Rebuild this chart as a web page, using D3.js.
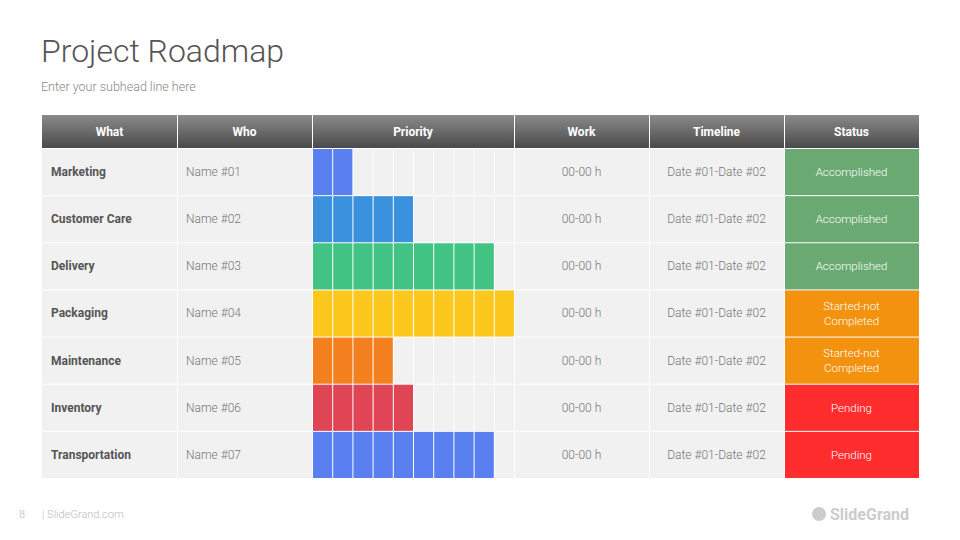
<!DOCTYPE html>
<html><head><meta charset="utf-8">
<script src="https://cdn.jsdelivr.net/npm/d3@7"></script>
<style>body{margin:0;background:#fff}text{font-family:Roboto,sans-serif}</style>
</head><body><div id="chart"></div>
<script>
var columns = ["What", "Who", "Priority", "Work", "Timeline", "Status"];
var tasks = ["Marketing", "Customer Care", "Delivery", "Packaging", "Maintenance", "Inventory", "Transportation"];
var names = ["Name #01", "Name #02", "Name #03", "Name #04", "Name #05", "Name #06", "Name #07"];
var priority = [2, 5, 9, 10, 4, 5, 9];
var work = ["00-00 h", "00-00 h", "00-00 h", "00-00 h", "00-00 h", "00-00 h", "00-00 h"];
var timeline = ["Date #01-Date #02", "Date #01-Date #02", "Date #01-Date #02", "Date #01-Date #02", "Date #01-Date #02", "Date #01-Date #02", "Date #01-Date #02"];
var statuses = ["Accomplished", "Accomplished", "Accomplished", "Started-not|Completed", "Started-not|Completed", "Pending", "Pending"];
var barColors = ["#5a7ff0", "#3a92de", "#41c483", "#fcc81e", "#f37f1f", "#e04555", "#5a7ff0"];
var statusColors = {"Accomplished": "#6aaa72", "Started-not|Completed": "#f3920e", "Pending": "#ff2d2d"};

function init() {
    var w = 960, h = 540;
    var svg = d3.select("#chart").append("svg").attr("width", w).attr("height", h);

    svg.append("text").attr("x", 41).attr("y", 62).attr("font-size", 32).attr("font-weight", 300)
        .attr("fill", "#555").text("Project Roadmap");
    svg.append("text").attr("x", 41).attr("y", 91).attr("font-size", 12.5).attr("font-weight", 300)
        .attr("fill", "#888").text("Enter your subhead line here");

    var edges = [42, 177, 312, 514, 649, 784, 919];
    var colX = function (i) { return edges[i]; };
    var colW = function (i) { return edges[i + 1] - edges[i]; };

    var grad = svg.append("defs").append("linearGradient").attr("id", "hg").attr("x1", 0).attr("y1", 0).attr("x2", 0).attr("y2", 1);
    grad.append("stop").attr("offset", 0).attr("stop-color", "#8a8a8a");
    grad.append("stop").attr("offset", 1).attr("stop-color", "#4a4a4a");

    var headY = 115, headH = 33;
    var y = d3.scaleBand().domain(tasks).range([148, 478]).paddingInner(0);

    var hdr = svg.selectAll("g.hdr").data(columns).enter().append("g");
    hdr.append("rect").attr("x", function (d, i) { return colX(i) + (i ? 1 : 0); }).attr("y", headY)
        .attr("width", function (d, i) { return colW(i) - (i ? 1 : 0); }).attr("height", headH).attr("fill", "url(#hg)");
    hdr.append("text").attr("x", function (d, i) { return colX(i) + colW(i) / 2; }).attr("y", headY + 21)
        .attr("text-anchor", "middle").attr("font-size", 12).attr("font-weight", 700).attr("fill", "#fff").text(function (d) { return d; });

    var rows = svg.selectAll("g.row").data(tasks).enter().append("g")
        .attr("transform", function (d) { return "translate(0," + y(d) + ")"; });
    var rh = y.bandwidth();

    [0, 1, 3, 4].forEach(function (c) {
        rows.append("rect").attr("x", colX(c) + (c ? 1 : 0)).attr("y", 1).attr("width", colW(c) - (c ? 1 : 0)).attr("height", rh - 1).attr("fill", "#f1f1f1");
    });

    var px = d3.scaleLinear().domain([0, 10]).range([312, 514]);
    var slots = d3.range(10);
    rows.each(function (d, r) {
        var g = d3.select(this);
        g.selectAll("rect.slot").data(slots).enter().append("rect")
            .attr("x", function (k) { return px(k) + 1; }).attr("y", 1)
            .attr("width", function (k) { return px(k + 1) - px(k) - 1; }).attr("height", rh - 1)
            .attr("fill", function (k) { return k < priority[r] ? barColors[r] : "#f1f1f1"; });
        g.append("rect").attr("x", colX(5) + 1).attr("y", 1).attr("width", colW(5) - 1).attr("height", rh - 1)
            .attr("fill", statusColors[statuses[r]]);
        var lines = statuses[r].split("|");
        g.selectAll("text.st").data(lines).enter().append("text")
            .attr("x", colX(5) + colW(5) / 2)
            .attr("y", function (l, j) { return rh / 2 + 4.5 + (j - (lines.length - 1) / 2) * 15; })
            .attr("text-anchor", "middle").attr("font-size", 11.5).attr("font-weight", 300).attr("fill", "#fff").text(function (l) { return l; });
    });

    rows.append("text").attr("x", 51).attr("y", rh / 2 + 4.5).attr("font-size", 12).attr("font-weight", 700).attr("fill", "#555").text(function (d) { return d; });
    rows.append("text").attr("x", 186).attr("y", rh / 2 + 4.5).attr("font-size", 12).attr("font-weight", 300).attr("fill", "#777").text(function (d, i) { return names[i]; });
    rows.append("text").attr("x", colX(3) + colW(3) / 2).attr("y", rh / 2 + 4.5).attr("text-anchor", "middle").attr("font-size", 12).attr("font-weight", 300).attr("fill", "#777").text(function (d, i) { return work[i]; });
    rows.append("text").attr("x", colX(4) + colW(4) / 2).attr("y", rh / 2 + 4.5).attr("text-anchor", "middle").attr("font-size", 12).attr("font-weight", 300).attr("fill", "#777").text(function (d, i) { return timeline[i]; });

    svg.append("text").attr("x", 19).attr("y", 518).attr("font-size", 11).attr("fill", "#ccc").text("8");
    svg.append("text").attr("x", 42).attr("y", 518).attr("font-size", 11).attr("font-weight", 300).attr("fill", "#bbb").text("| SlideGrand.com");
    svg.append("circle").attr("cx", 819).attr("cy", 514).attr("r", 7).attr("fill", "#ccc");
    svg.append("text").attr("x", 830).attr("y", 520).attr("font-size", 16).attr("font-weight", 700).attr("fill", "#ccc").text("SlideGrand");
}
window.onload = init;
</script></body></html>
